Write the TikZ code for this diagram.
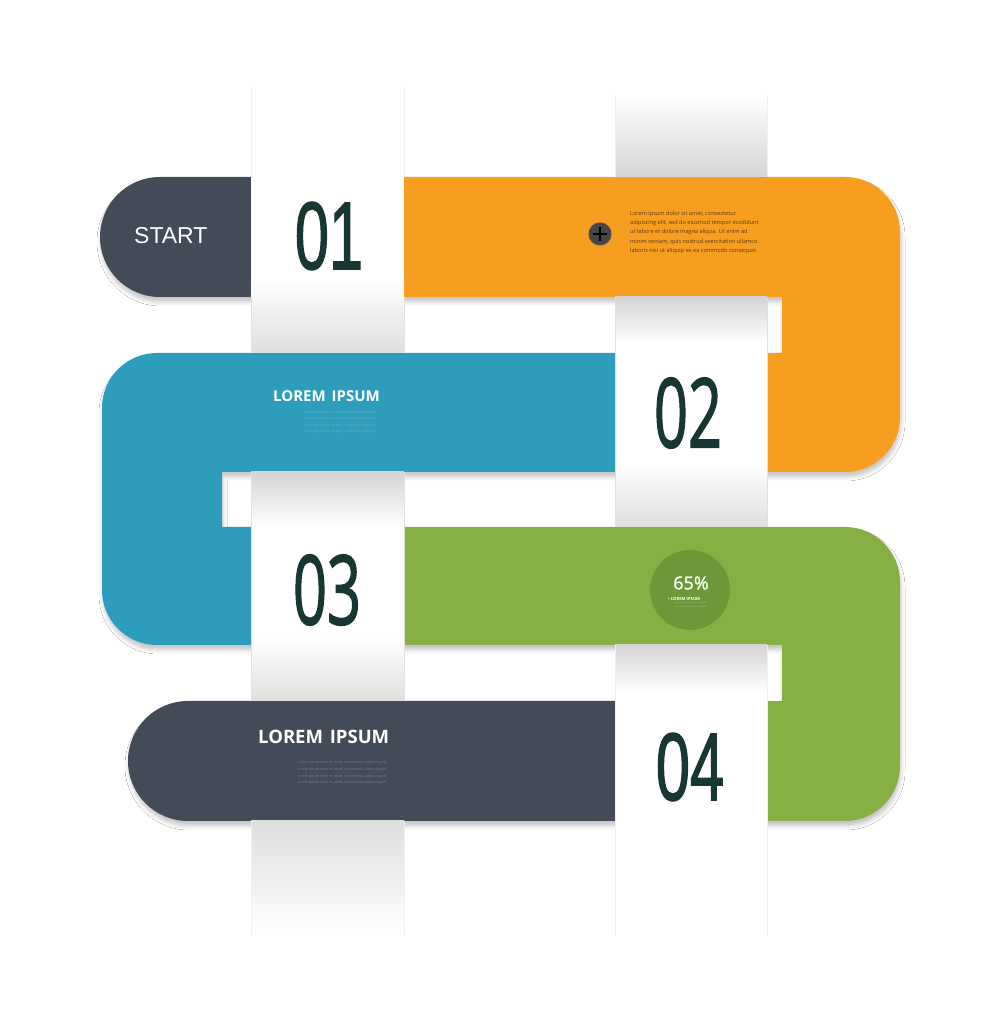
\documentclass[tikz,border=0pt]{standalone}
\usepackage{fontspec}
\usepackage{graphicx}
\setmainfont{Liberation Sans}
\newfontfamily\opensans{Open Sans}
\newfontfamily\numa[FakeBold=1.6]{Liberation Sans}
\newfontfamily\numb[FakeBold=1.8]{Open Sans}
\usetikzlibrary{shadows.blur}
\definecolor{slate}{RGB}{67,74,88}
\definecolor{orng}{RGB}{247,158,32}
\definecolor{bluecol}{RGB}{45,157,187}
\definecolor{grn}{RGB}{134,176,67}
\definecolor{grndark}{RGB}{110,151,56}
\definecolor{numcol}{RGB}{22,55,50}
\definecolor{txtbrown}{RGB}{100,56,14}
\definecolor{plusdark}{RGB}{74,70,70}
\definecolor{stripg}{RGB}{222,222,222}
\definecolor{shad}{RGB}{212,212,212}
\definecolor{stripe}{RGB}{224,224,224}
\definecolor{stripf}{RGB}{240,240,240}
\tikzset{
  band/.style={blur shadow={shadow xshift=1pt, shadow yshift=-5pt, shadow blur radius=4pt, shadow opacity=22}},
  num/.style={inner sep=0pt, text=numcol},
  tinytext/.style={inner sep=0pt, align=right, text=white, text opacity=0.3},
}
\begin{document}
\begin{tikzpicture}[x=1pt,y=1pt]
\useasboundingbox (0,0) rectangle (1005,1023);
\fill[white] (0,0) rectangle (1005,1023);

% ---- bands ----
\fill[slate, band] (300,846) -- (160,846) arc[start angle=90, end angle=270, radius=60] -- (300,726) -- cycle;
\fill[orng, band] (350,846) -- (845,846) arc[start angle=90, end angle=0, radius=55] -- (900,606)
  arc[start angle=0, end angle=-90, radius=55] -- (700,551) -- (700,670) -- (782,670) -- (782,726) -- (350,726) -- cycle;
\fill[bluecol, band] (660,670) -- (157,670) arc[start angle=90, end angle=180, radius=55] -- (102,433)
  arc[start angle=180, end angle=270, radius=55] -- (300,378) -- (300,496) -- (222,496) -- (222,551) -- (660,551) -- cycle;
\fill[grn, band] (350,496) -- (845,496) arc[start angle=90, end angle=0, radius=55] -- (900,257)
  arc[start angle=0, end angle=-90, radius=55] -- (700,202) -- (700,322) -- (782,322) -- (782,378) -- (350,378) -- cycle;
\fill[slate, band] (660,322) -- (188,322) arc[start angle=90, end angle=270, radius=60] -- (660,202) -- cycle;

% ---- strip 1 (x 251-404) ----
\fill[white] (251,936) rectangle (404,670);
\shade[top color=white, bottom color=stripg] (251,745) rectangle (404,670);
\draw[stripf] (251,936) -- (251,846) (404,936) -- (404,846);
\draw[stripe] (251,726) -- (251,670) (404,726) -- (404,670);
\fill[white] (251,551) rectangle (404,322);
\shade[top color=shad, bottom color=white] (251,551) rectangle (404,495);
\shade[top color=white, bottom color=stripg] (251,385) rectangle (404,322);
\draw[stripe] (251,551) -- (251,322) (404,551) -- (404,322);
\shade[top color=stripg, bottom color=white] (251,202) rectangle (404,88);
\draw[stripf] (251,202) -- (251,88) (404,202) -- (404,88);

% ---- strip 2 (x 615-767) ----
\shade[top color=white, bottom color=shad] (615,928) rectangle (767,846);
\draw[stripf] (615,928) -- (615,846) (767,928) -- (767,846);
\fill[white] (615,726) rectangle (767,496);
\shade[top color=shad, bottom color=white] (615,726) rectangle (767,680);
\shade[top color=white, bottom color=stripg] (615,560) rectangle (767,496);
\draw[stripe] (615,726) -- (615,496) (767,726) -- (767,496);
\fill[white] (615,378) rectangle (767,88);
\shade[top color=shad, bottom color=white] (615,378) rectangle (767,330);
\draw[stripf] (615,378) -- (615,88) (767,378) -- (767,88);

% ---- numbers ----
\node[num] (n01) at (329,787) {\scalebox{0.64}[1]{\numa\fontsize{96}{96}\selectfont 01}};
\node[num] (n02) at (688,610) {\scalebox{0.62}[1]{\numb\fontsize{96}{96}\selectfont 02}};
\node[num] (n03) at (327,433) {\scalebox{0.62}[1]{\numb\fontsize{96}{96}\selectfont 03}};
\node[num] (n04) at (690,256) {\scalebox{0.64}[1]{\numa\fontsize{96}{96}\selectfont 04}};

% ---- START ----
\node[anchor=base west, inner sep=0pt, text=white, font=\fontsize{23}{23}\selectfont] (start) at (134,779) {START};

% ---- orange content ----
\fill[plusdark] (600,789) circle[radius=11.5];
\coordinate (pl) at (593,789); \coordinate (pr) at (607,789);
\coordinate (pt) at (600,796); \coordinate (pb) at (600,782);
\draw[black, line width=1.6pt] (pl) -- (pr) (pt) -- (pb);
\node[anchor=north west, inner sep=0pt, align=left, text=txtbrown, font=\opensans\fontsize{5.6}{9.2}\selectfont] (otext) at (630,812)
  {Lorem ipsum dolor sit amet, consectetur\\adipiscing elit, sed do eiusmod tempor incididunt\\ut labore et dolore magna aliqua. Ut enim ad\\minim veniam, quis nostrud exercitation ullamco\\laboris nisi ut aliquip ex ea commodo consequat.};

% ---- blue content ----
\node[anchor=base west, inner sep=0pt, text=white, font=\opensans\bfseries\fontsize{15}{15}\selectfont] (bl) at (273,621) {LOREM\hspace{2pt} IPSUM};
\node[tinytext, anchor=north east, font=\opensans\fontsize{3}{6.5}\selectfont] (bt) at (376,612)
  {Lorem ipsum dolor sit amet, consectetur adipiscing\\Lorem ipsum dolor sit amet, consectetur adipiscing\\Lorem ipsum dolor sit amet, consectetur adipiscing\\Lorem ipsum dolor sit amet, consectetur adipiscing};

% ---- green content ----
\fill[grndark] (690,433) circle[radius=40];
\node[inner sep=0pt, text=white!94!green, font=\numb\fontsize{18}{18}\selectfont] (pct) at (691,440) {65\%};
\node[anchor=west, inner sep=0pt, text=white, font=\opensans\bfseries\fontsize{4.2}{4.2}\selectfont] (gl) at (668,424) {• LOREM IPSUM};
\node[anchor=north west, inner sep=0pt, align=left, text=white, text opacity=0.5, font=\opensans\fontsize{1.7}{3.6}\selectfont] (gt) at (674,421)
  {Lorem ipsum dolor sit amet, consectetur\\Lorem ipsum dolor sit amet, consectetur};

% ---- dark bottom content ----
\node[anchor=base west, inner sep=0pt, text=white, font=\opensans\bfseries\fontsize{18.5}{18.5}\selectfont] (dl) at (258,279) {LOREM\hspace{2pt} IPSUM};
\node[tinytext, anchor=north east, text opacity=0.3, font=\opensans\fontsize{3.5}{6.7}\selectfont] (dt) at (387,262)
  {Lorem ipsum dolor sit amet, consectetur adipiscing elit\\Lorem ipsum dolor sit amet, consectetur adipiscing elit\\Lorem ipsum dolor sit amet, consectetur adipiscing elit\\Lorem ipsum dolor sit amet, consectetur adipiscing elit};
\end{tikzpicture}
\end{document}
